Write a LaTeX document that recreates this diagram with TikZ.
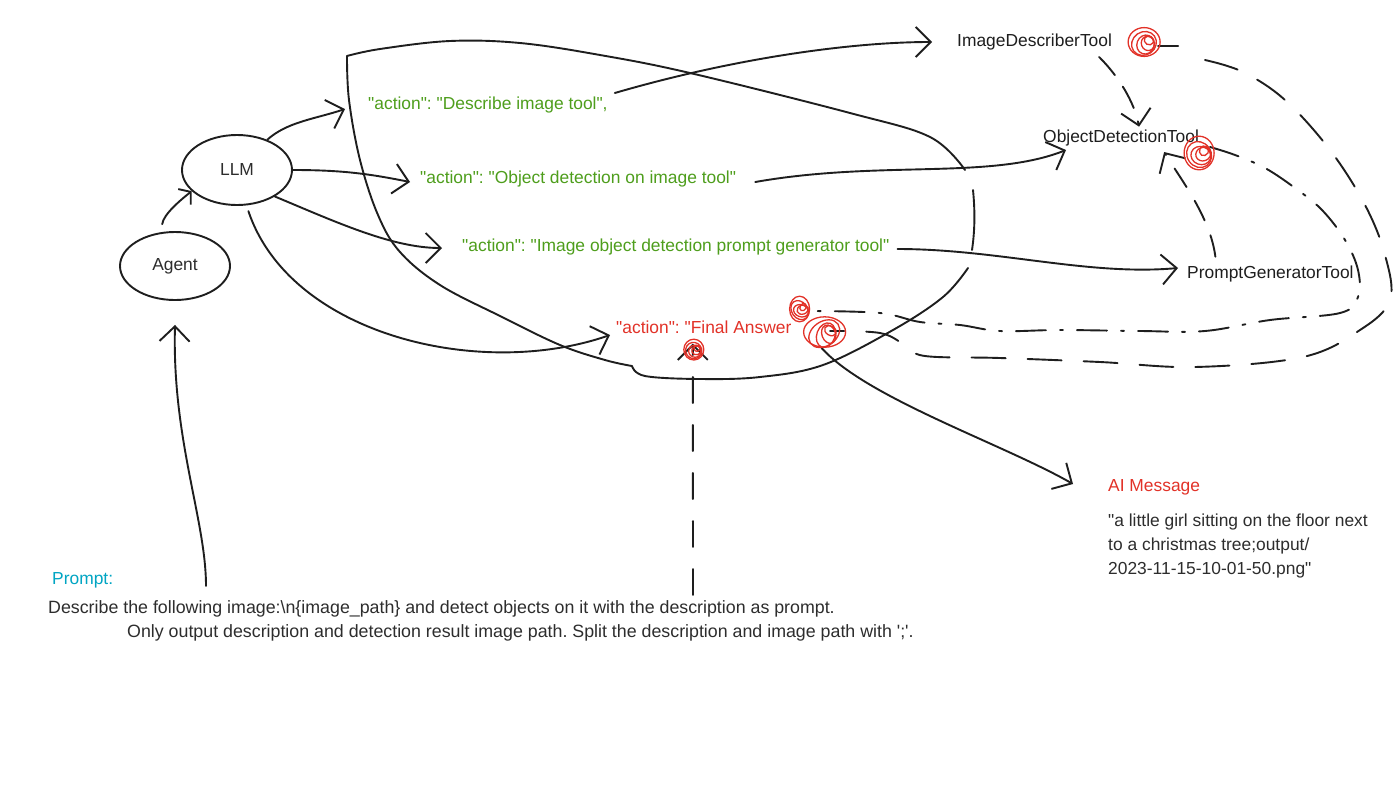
\documentclass[tikz,border=0pt]{standalone}
\usepackage{fontspec}
\setmainfont{Liberation Sans}[Ligatures=TeXOff]
\frenchspacing
\usetikzlibrary{arrows.meta,shapes.geometric}
\definecolor{actgreen}{RGB}{78,158,28}
\definecolor{ansred}{RGB}{226,50,40}
\definecolor{promptcyan}{RGB}{0,165,195}
\definecolor{ink}{RGB}{30,30,30}
\definecolor{body}{RGB}{45,45,45}
\tikzset{
  pen/.style={draw=ink, line width=1.9pt, line cap=round, line join=round},
  hand/.style={-{Straight Barb[length=15pt,width=30pt,line width=1.9pt]}},
  smallhand/.style={-{Straight Barb[length=8pt,width=20pt,line width=1.9pt]}},
  gap/.style={dash pattern=on 34pt off 22pt},
  gapdot/.style={dash pattern=on 30pt off 14pt on 3pt off 14pt},
  scrib/.style={draw=ansred, line width=1.3pt},
  blob/.style={ellipse, draw=ink, line width=1.9pt, text=body, font=\fontsize{17.4}{21}\selectfont},
  lbl/.style={inner sep=0pt, anchor=west, text=ink, font=\fontsize{17.4}{24}\selectfont},
  small/.style={lbl, text=body, font=\fontsize{17.8}{24}\selectfont},
}
\begin{document}
\begin{tikzpicture}[x=1pt, y=-1pt]
  \useasboundingbox[fill=white] (0,0) rectangle (1400,788);
  \node[blob, minimum width=110pt, minimum height=68pt] (agent) at (175,266) {Agent};
  \node[blob, minimum width=110pt, minimum height=70pt] (llm) at (237,170) {LLM};
  \node[lbl, text=actgreen] (actDescribe) at (368,105) {"action": "Describe image tool",};
  \node[lbl, text=actgreen] (actDetect) at (420,179) {"action": "Object detection on image tool"};
  \node[lbl, text=actgreen] (actPrompt) at (462,247) {"action": "Image object detection prompt generator tool"};
  \node[lbl, text=ansred] (actFinal) at (616,327) {"action": "Final Answer};
  \node[lbl] (toolDescriber) at (957,42) {ImageDescriberTool};
  \node[lbl] (toolDetector) at (1043,138) {ObjectDetectionTool};
  \node[lbl] (toolPrompt) at (1187,274) {PromptGeneratorTool};
  \node[lbl, text=ansred] (aiMsg) at (1108,487) {AI Message};
  \node[lbl, text=body, anchor=north west, align=left] (aiText) at (1108,514)
    {"a little girl sitting on the floor next\\to a christmas tree;output/\\2023-11-15-10-01-50.png"};
  \node[lbl, text=promptcyan] (promptLbl) at (52,580) {Prompt:};
  \node[small] (promptOne) at (48,609) {Describe the following image:\textbackslash n\{image\_path\} and detect objects on it with the description as prompt.};
  \node[small] (promptTwo) at (127,633) {Only output description and detection result image path. Split the description and image path with ';'.};

  \coordinate (promptFoot) at (206,586);
  \coordinate (finalFoot) at (693,595);
  \coordinate (scribA) at ([xshift=32pt]toolDescriber.east);
  \coordinate (scribB) at ([yshift=-15pt]toolDetector.east);
  \coordinate (scribC) at ([xshift=8pt,yshift=18pt]actFinal.east);
  \coordinate (scribD) at ([xshift=33pt,yshift=-5pt]actFinal.east);
  \coordinate (scribE) at ([xshift=-10pt,yshift=-16pt]actFinal.south);

  % agent and llm
  \draw[pen, hand] (promptFoot) .. controls (206,520) and (172,440) .. ([yshift=-24pt]agent.south);
  \draw[pen, smallhand, shorten <=8pt] (agent.112) .. controls +(2,-18) and +(-10,8) .. (llm.205);
  \draw[pen, hand] (llm.45) .. controls +(20,-18) and +(-30,10) .. ([xshift=-23pt,yshift=-4pt]actDescribe.west);
  \draw[pen, hand] (llm.east) .. controls +(50,0) and +(-40,-8) .. ([xshift=-10pt,yshift=-3pt]actDetect.west);
  \draw[pen, hand] (llm.-35) .. controls +(60,25) and +(-50,0) .. ([xshift=-20pt,yshift=-1pt]actPrompt.west);
  \draw[pen, hand, shorten <=6pt] (llm.-75) .. controls (290,335) and (480,380) .. ([xshift=-6pt,yshift=-8pt]actFinal.west);

  % the loop round the actions
  \draw[pen] plot[smooth, tension=0.6] coordinates {(347,56) (380,49) (450,41) (520,43) (600,55) (690,73) (850,113) (930,137) (965,170)};
  \draw[pen] plot[smooth, tension=0.6] coordinates {(347,56) (349,100) (360,160) (378,215) (400,252) (440,285) (500,316) (560,345) (605,360) (632,366)};
  \draw[pen] plot[smooth, tension=0.6] coordinates {(632,366) (645,376) (700,379) (760,377) (823,365) (893,330) (943,297) (968,268)};
  \draw[pen] (973,190) .. controls (975,210) and (975,230) .. (972,250);

  % actions to tools
  \draw[pen, hand] ([xshift=7pt,yshift=12pt]actDescribe.east) .. controls +(120,-35) and +(-80,0) .. ([xshift=-25pt]toolDescriber.west);
  \draw[pen, hand] ([xshift=19pt,yshift=-3pt]actDetect.east) .. controls (880,160) and (990,180) .. ([xshift=23pt,yshift=-12pt]toolDetector.west);
  \draw[pen, hand] ([xshift=8pt,yshift=-2pt]actPrompt.east) .. controls +(100,0) and +(-90,8) .. ([xshift=-9pt,yshift=6pt]toolPrompt.west);
  \draw[pen, hand] ([xshift=30pt,yshift=-21pt]actFinal.east) .. controls +(45,50) and +(-70,-40) .. ([xshift=-35pt,yshift=3pt]aiMsg.west);

  % tool to tool
  \draw[pen, hand, dash pattern=on 24pt off 14pt] ([xshift=-13pt,yshift=-15pt]toolDescriber.east) .. controls +(20,20) and +(-5,-25) .. ([xshift=18pt,yshift=3pt]toolDetector.north);
  \draw[pen, hand, dash pattern=on 22pt off 16pt] ([xshift=-55pt,yshift=9pt]toolPrompt.north) .. controls +(-5,-40) and +(15,25) .. ([xshift=-35pt,yshift=-14pt]toolDetector.east);
  \draw[pen, hand, dash pattern=on 26pt off 22pt] (finalFoot) -- ([xshift=-11pt,yshift=-10pt]actFinal.south);

  % results back to the final answer
  \draw[pen] (scribA) ++(14,4) -- ++(20,0);
  \draw[pen, gap] plot[smooth, tension=0.6] coordinates {(1205,60) (1243,72) (1285,100) (1330,150) (1365,205) (1385,255) (1390,300) (1360,330) (1303,357) (1195,367) (1100,362) (1000,358) (925,356) (905,345) (880,333) (830,331)};
  \draw[pen, gapdot] plot[smooth, tension=0.6] coordinates {(1210,147) (1235,155) (1265,168) (1295,188) (1322,210) (1345,240) (1358,270) (1358,297) (1340,313) (1270,320) (1205,331) (1140,331) (1060,330) (1000,331) (960,325) (920,322) (880,313) (812,311)};

  \foreach \c/\rx/\ry in {scribA/16/18, scribB/15/21, scribC/10/16, scribD/21/19, scribE/10/13}
    \foreach \k/\a in {1/0, 0.8/35, 0.6/70, 0.45/110, 0.3/150}
      \draw[scrib, rotate around={\a:(\c)}] (\c) ++({-0.3*\rx*(1-\k)},{0.3*\ry*(1-\k)}) ellipse ({\rx*\k} and {\ry*\k*0.8});
\end{tikzpicture}
\end{document}
